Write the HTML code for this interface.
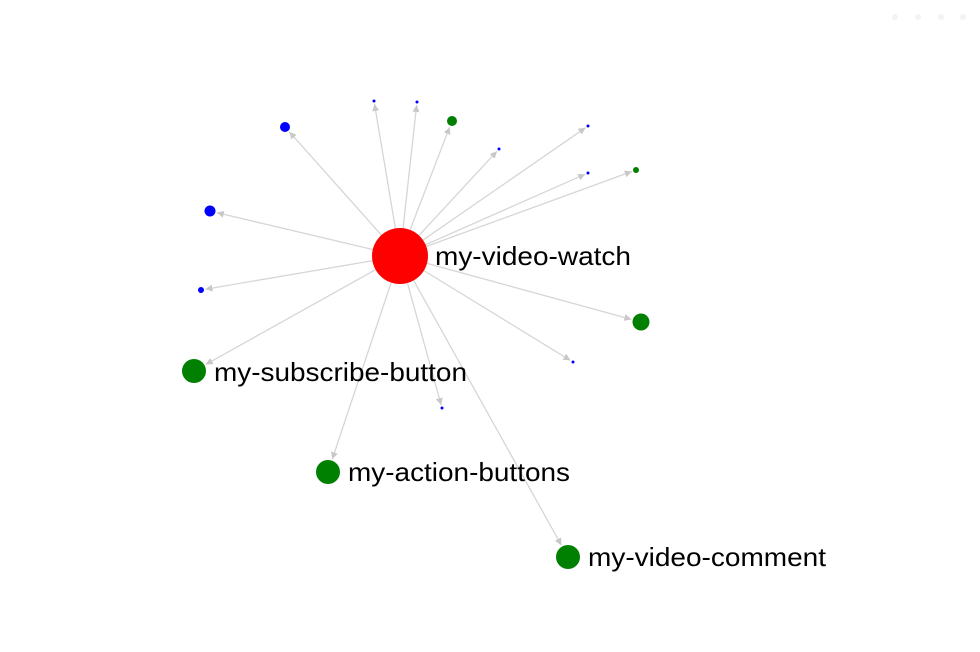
<!DOCTYPE html>
<html><head><meta charset="utf-8"><style>
html,body{margin:0;padding:0;background:#fff;}
svg{display:block;}
text{font-family:"Liberation Sans",Arial,sans-serif;font-size:26px;fill:#000;}
</style></head><body>
<svg id="s" width="980" height="652" viewBox="0 0 980 652" xmlns="http://www.w3.org/2000/svg">
<defs><marker id="a" viewBox="0 0 10 10" refX="10" refY="5" markerWidth="7" markerHeight="7" markerUnits="userSpaceOnUse" orient="auto"><path d="M0,0 L10,5 L0,10 z" fill="#c8c8c8"/></marker></defs>
<g id="e"></g>
<g fill="#f3f3f3"><circle cx="895" cy="17" r="3"/><circle cx="918" cy="17" r="3"/><circle cx="941" cy="17" r="3"/><circle cx="963" cy="17" r="3"/></g>
<g id="n"></g>
<text x="435" y="265" textLength="196" lengthAdjust="spacingAndGlyphs">my-video-watch</text>
<text x="214" y="381" textLength="253" lengthAdjust="spacingAndGlyphs">my-subscribe-button</text>
<text x="348" y="481" textLength="222" lengthAdjust="spacingAndGlyphs">my-action-buttons</text>
<text x="588" y="566" textLength="238" lengthAdjust="spacingAndGlyphs">my-video-comment</text>
</svg>
<script>
var cx=400,cy=256,R=28;
var nodes=[[285,127,5,'#0000ff'],[210,211,5.5,'#0000ff'],[201,290,3,'#0000ff'],[374,101,1.5,'#0000ff'],[417,102,1.5,'#0000ff'],[452,121,5,'#008000'],[499,149,1.5,'#0000ff'],[588,126,1.5,'#0000ff'],[588,173,1.5,'#0000ff'],[636,170,3,'#008000'],[641,322,8.5,'#008000'],[573,362,1.5,'#0000ff'],[442,408,1.5,'#0000ff'],[194,371,12,'#008000'],[328,472,12,'#008000'],[568,557,12,'#008000']];
var ns="http://www.w3.org/2000/svg",E=document.getElementById('e'),N=document.getElementById('n');
nodes.forEach(function(d){var dx=d[0]-cx,dy=d[1]-cy,L=Math.sqrt(dx*dx+dy*dy),ux=dx/L,uy=dy/L;
var l=document.createElementNS(ns,'line');l.setAttribute('x1',cx+ux*R);l.setAttribute('y1',cy+uy*R);
l.setAttribute('x2',d[0]-ux*(d[2]+1.5));l.setAttribute('y2',d[1]-uy*(d[2]+1.5));
l.setAttribute('stroke','#d6d6d6');l.setAttribute('stroke-width','1.3');l.setAttribute('marker-end','url(#a)');E.appendChild(l);
var c=document.createElementNS(ns,'circle');c.setAttribute('cx',d[0]);c.setAttribute('cy',d[1]);c.setAttribute('r',d[2]);c.setAttribute('fill',d[3]);N.appendChild(c);});
var c=document.createElementNS(ns,'circle');c.setAttribute('cx',cx);c.setAttribute('cy',cy);c.setAttribute('r',R);c.setAttribute('fill','#ff0000');N.appendChild(c);
</script>
</body></html>
